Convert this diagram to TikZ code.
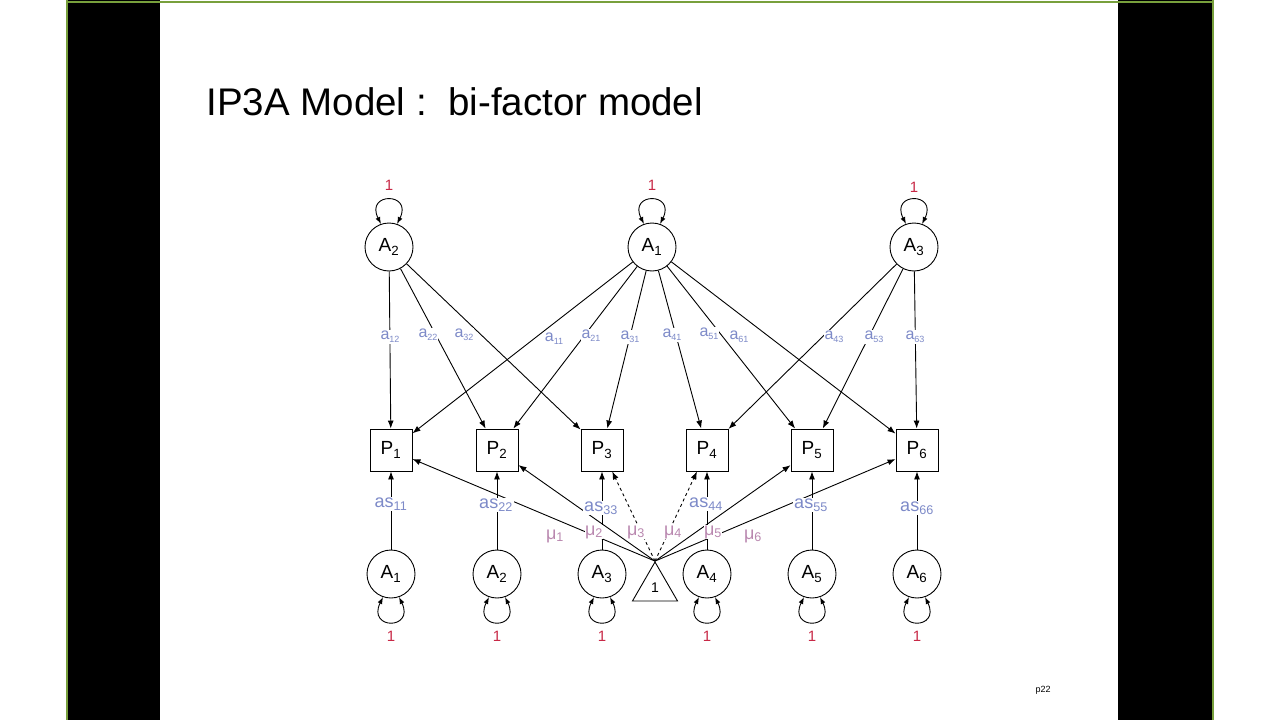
\documentclass[tikz,border=0pt]{standalone}
\usepackage{fontspec}
\setmainfont{Liberation Sans}
\usetikzlibrary{arrows.meta,shapes.geometric}
\definecolor{lav}{RGB}{125,138,200}
\definecolor{muc}{RGB}{185,135,175}
\definecolor{one}{RGB}{200,40,70}
\definecolor{gbar}{RGB}{120,160,60}
\newcommand{\sbx}[1]{\textsubscript{#1}}
\newcommand{\ssb}[1]{\raisebox{-3pt}{\fontsize{9}{9}\selectfont #1}}
\begin{document}
\begin{tikzpicture}[x=1pt,y=-1pt,
  lat/.style={circle,draw,line width=0.9pt,minimum size=48pt,inner sep=0pt,font=\fontsize{19}{19}\selectfont},
  man/.style={rectangle,draw,line width=0.9pt,minimum size=42pt,inner sep=0pt,font=\fontsize{19}{19}\selectfont},
  arr/.style={-{Latex[length=8pt,width=6pt]},line width=0.9pt},
  lp/.style={{Latex[length=7pt,width=5pt]}-{Latex[length=7pt,width=5pt]},line width=0.9pt},
  ll/.style={text=lav,fill=white,inner sep=1pt,font=\fontsize{16}{16}\selectfont},
  ml/.style={text=muc,fill=white,inner sep=0.5pt,font=\fontsize{18}{18}\selectfont},
  on/.style={text=one,font=\fontsize{15}{15}\selectfont}]
\useasboundingbox (0,0) rectangle (1280,720);
\fill[black] (67,0) rectangle (160,720);
\fill[black] (1118,0) rectangle (1213,720);
\draw[gbar,line width=2pt] (67,0) -- (67,720) (1213,0) -- (1213,720) (67,2) -- (1213,2);
\node[anchor=west,font=\fontsize{38.5}{38.5}\selectfont] (title) at (203,102) {IP3A Model :\ \ bi-factor model};
\node[font=\fontsize{9}{9}\selectfont] (pg) at (1043,690) {p22};
% general factors
\node[lat] (G2) at (389,247) {A\sbx{2}};
\node[lat] (G1) at (652,247) {A\sbx{1}};
\node[lat] (G3) at (914,247) {A\sbx{3}};
% indicators
\foreach \i/\x in {1/391,2/497,3/602,4/707,5/812,6/917}{
  \node[man] (P\i) at (\x,450) {P\sbx{\i}};
  \node[lat] (S\i) at (\x,574) {A\sbx{\i}};
}
\node[regular polygon,regular polygon sides=3,draw,line width=0.9pt,minimum size=52pt,inner sep=0pt,font=\fontsize{14}{14}\selectfont] (T) at (655,588) {1};
% loops top
\foreach \n/\x in {G2/389,G1/652,G3/914}{
  \draw[lp] (\x-8,224) .. controls (\x-24,192) and (\x+24,192) .. (\x+8,224);
}
\node[on] (o1) at (389,185) {1};
\node[on] (o2) at (652,185) {1};
\node[on] (o3) at (914,187) {1};
% loops bottom
\foreach \i/\x in {1/391,2/497,3/602,4/707,5/812,6/917}{
  \draw[lp] (\x-8,597) .. controls (\x-24,630) and (\x+24,630) .. (\x+8,597);
  \node[on] (b\i) at (\x,636) {1};
}
% loadings
\foreach \j in {1,2,3} \draw[arr] (G2) -- (P\j);
\foreach \j in {1,...,6} \draw[arr] (G1) -- (P\j);
\foreach \j in {4,5,6} \draw[arr] (G3) -- (P\j);
\foreach \j in {1,...,6} \draw[arr] (S\j) -- (P\j);
\draw[arr] (T.north) -- (P1);
\draw[arr] (T.north) -- (P2);
\draw[arr,dashed] (T.north) -- (P3);
\draw[arr,dashed] (T.north) -- (P4);
\draw[arr] (T.north) -- (P5);
\draw[arr] (T.north) -- (P6);
% labels
\node[ll] (l12) at (390,337) {a\ssb{12}};
\node[ll] (l22) at (428,335) {a\ssb{22}};
\node[ll] (l32) at (464,335) {a\ssb{32}};
\node[ll] (l11) at (554,339) {a\ssb{11}};
\node[ll] (l21) at (591,336) {a\ssb{21}};
\node[ll] (l31) at (630,337) {a\ssb{31}};
\node[ll] (l41) at (672,335) {a\ssb{41}};
\node[ll] (l51) at (709,334) {a\ssb{51}};
\node[ll] (l61) at (739,337) {a\ssb{61}};
\node[ll] (l43) at (834,337) {a\ssb{43}};
\node[ll] (l53) at (874,337) {a\ssb{53}};
\node[ll] (l63) at (915,337) {a\ssb{63}};
\node[ll,font=\fontsize{18}{18}\selectfont] (s1) at (391,504) {as\sbx{11}};
\node[ll,font=\fontsize{18}{18}\selectfont] (s2) at (496,505) {as\sbx{22}};
\node[ll,font=\fontsize{18}{18}\selectfont] (s3) at (601,508) {as\sbx{33}};
\node[ll,font=\fontsize{18}{18}\selectfont] (s4) at (706,504) {as\sbx{44}};
\node[ll,font=\fontsize{18}{18}\selectfont] (s5) at (811,505) {as\sbx{55}};
\node[ll,font=\fontsize{18}{18}\selectfont] (s6) at (917,508) {as\sbx{66}};
\node[ml] (m1) at (555,536) {μ\sbx{1}};
\node[ml] (m2) at (594,532) {μ\sbx{2}};
\node[ml] (m3) at (636,532) {μ\sbx{3}};
\node[ml] (m4) at (673,532) {μ\sbx{4}};
\node[ml] (m5) at (713,532) {μ\sbx{5}};
\node[ml] (m6) at (753,536) {μ\sbx{6}};
\end{tikzpicture}
\end{document}
